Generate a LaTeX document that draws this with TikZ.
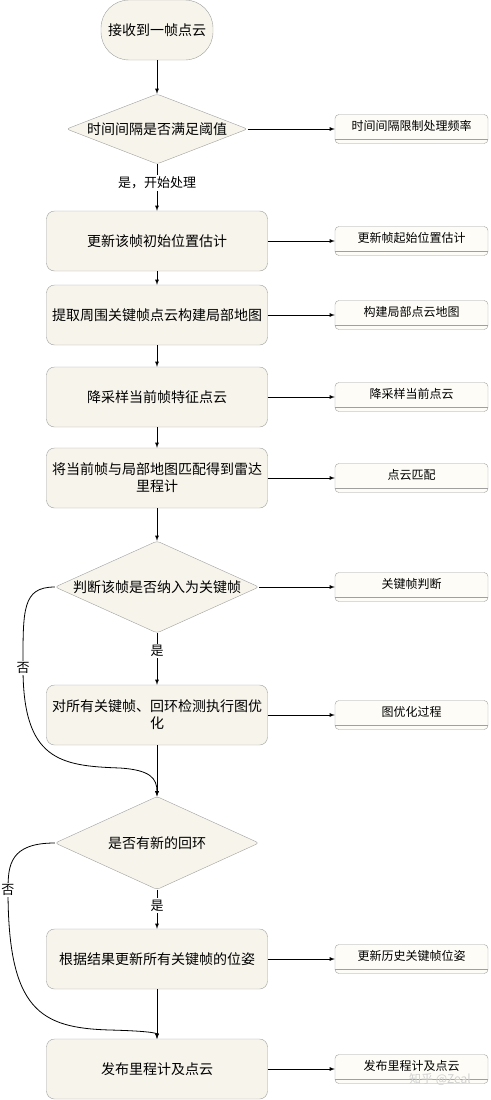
\documentclass[tikz,border=0pt]{standalone}
\usepackage{fontspec}
\setmainfont{Noto Sans CJK SC}
\usepackage{tikz}
\usetikzlibrary{shapes,arrows}
\definecolor{boxfill}{HTML}{F6F4EB}
\definecolor{notefill}{HTML}{FDFCF6}
\definecolor{boxline}{HTML}{A0A0A0}
\tikzstyle{node_start} = [rectangle, draw=boxline, fill=boxfill, rounded corners=28pt, minimum width=112pt, minimum height=60pt, inner sep=0pt, font=\fontsize{14}{17}\selectfont]
\tikzstyle{node_step} = [rectangle, draw=boxline, fill=boxfill, rounded corners=8pt, minimum width=221pt, minimum height=60pt, inner sep=0pt, align=center, font=\fontsize{14}{17}\selectfont]
\tikzstyle{node_decision} = [diamond, draw=boxline, fill=boxfill, rounded corners=3pt, inner sep=0pt, font=\fontsize{14}{17}\selectfont]
\tikzstyle{node_note} = [rectangle, draw=boxline, fill=notefill, rounded corners=4pt, minimum width=153pt, minimum height=29pt, inner sep=0pt]
\tikzstyle{node_label} = [fill=white, inner sep=1.5pt, font=\fontsize{13}{15}\selectfont]
\tikzstyle{edge_normal} = [->, >=latex, thick]

\begin{document}
\begin{tikzpicture}[x=1pt, y=-1pt]
		\useasboundingbox (0,0) rectangle (490,1100);
		\def\cx{157}
		\def\nx{411.5}
		\node (S) at (\cx,30) [node_start] {接收到一帧点云};
		\node (D1) at (\cx,129) [node_decision, aspect=2.6, minimum width=181pt, minimum height=70pt] {时间间隔是否满足阈值};
		\node (B1) at (\cx,241) [node_step] {更新该帧初始位置估计};
		\node (B2) at (\cx,315) [node_step] {提取周围关键帧点云构建局部地图};
		\node (B3) at (\cx,397) [node_step] {降采样当前帧特征点云};
		\node (B4) at (\cx,478) [node_step] {将当前帧与局部地图匹配得到雷达\\里程计};
		\node (D2) at (\cx,587) [node_decision, aspect=2.2, minimum width=204pt, minimum height=92pt] {判断该帧是否纳入为关键帧};
		\node (B5) at (\cx,715) [node_step] {对所有关键帧、回环检测执行图优\\化};
		\node (D3) at (\cx,843) [node_decision, aspect=2.2, minimum width=204pt, minimum height=93pt] {是否有新的回环};
		\node (B6) at (\cx,959) [node_step] {根据结果更新所有关键帧的位姿};
		\node (B7) at (\cx,1069) [node_step] {发布里程计及点云};
		
		% notes on the right
		\foreach \name/\y/\txt in {N1/129/时间间隔限制处理频率, N2/241/更新帧起始位置估计, N3/315/构建局部点云地图, N4/397/降采样当前点云, N5/478/点云匹配, N6/587/关键帧判断, N7/715/图优化过程, N8/959/更新历史关键帧位姿, N9/1069/发布里程计及点云} {
			\node (\name) at (\nx,\y) [node_note] {};
			\draw[boxline] ([yshift=5pt]\name.south west) -- ([yshift=5pt]\name.south east);
			\node at ([yshift=-11.5pt]\name.north) {\fontsize{12}{14}\selectfont\txt};
		}
		\node at (440,1079) [text=black!18, font=\fontsize{12}{14}\selectfont] {知乎 @Zeal};
		
		\draw[edge_normal] (S)--(D1);
		\draw[edge_normal] (D1)-- node[node_label, pos=0.4] {是，开始处理} (B1);
		\draw[edge_normal] (B1)--(B2);
		\draw[edge_normal] (B2)--(B3);
		\draw[edge_normal] (B3)--(B4);
		\draw[edge_normal] (B4)--(D2);
		\draw[edge_normal] (D2)-- node[node_label, pos=0.35] {是} (B5);
		\draw[edge_normal] (B5)--(D3);
		\draw[edge_normal] (D3)-- node[node_label, pos=0.4] {是} (B6);
		\draw[edge_normal] (B6)--(B7);
		\draw[edge_normal] (D2.west) .. controls (22,587) and (23,610) .. (23,668) node[node_label] {否} .. controls (23,760) and (60,766) .. (120,768) .. controls (150,770) and (157,778) .. (D3.north);
		\draw[edge_normal] (D3.west) .. controls (10,843) and (8,865) .. (8,890) node[node_label] {否} .. controls (8,1010) and (40,1028) .. (110,1030) .. controls (148,1031) and (157,1033) .. (B7.north);
		\foreach \a/\b in {D1/N1, B1/N2, B2/N3, B3/N4, B4/N5, D2/N6, B5/N7, B6/N8, B7/N9}
			\draw[edge_normal] (\a.east)--(\b.west);
		\end{tikzpicture}
\end{document}
